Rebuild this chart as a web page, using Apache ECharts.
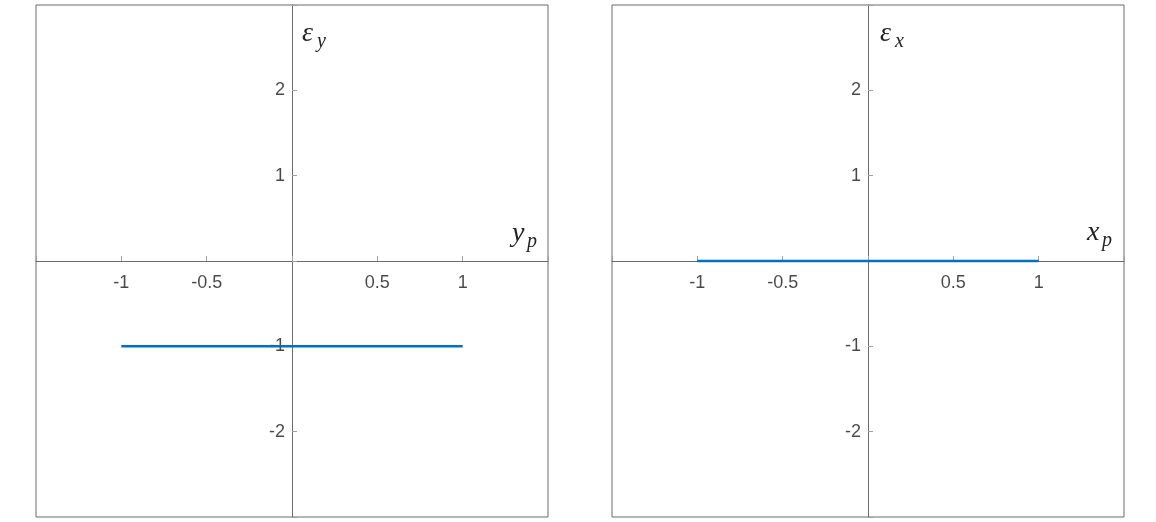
<!DOCTYPE html>
<html>
<head>
<meta charset="utf-8">
<script src="https://cdn.jsdelivr.net/npm/echarts@6/dist/echarts.min.js"></script>
<style>html,body{margin:0;padding:0;background:#fff;overflow:hidden;}#c{width:1156px;height:522px;}</style>
</head>
<body>
<div id="c"></div>
<script>
// Data
const leftX = [-1, 1];
const leftY = [-1, -1];
const rightX = [-1, 1];
const rightY = [0, 0];
const xRange = [-1.5, 1.5];
const yRange = [-3, 3];
const xTickValues = [-1, -0.5, 0.5, 1];
const xTickLabels = ['-1', '-0.5', '0.5', '1'];
const yTickValues = [-2, -1, 1, 2];
const yTickLabels = ['-2', '-1', '1', '2'];

const chart = echarts.init(document.getElementById('c'));
const lineColor = '#0072BD';
const frameColor = '#6b6b6b';
const textColor = '#1a1a1a';
const tickFont = 'Liberation Sans, Arial, sans-serif';

function xAxis(idx){
  return {
    gridIndex: idx, type: 'value', min: xRange[0], max: xRange[1], interval: 0.5,
    axisLine: {onZero: true, lineStyle: {color: frameColor, width: 1}},
    axisTick: {show: true, inside: true, length: 5, lineStyle: {color: '#a0a0a0'}},
    axisLabel: {show: false},
    splitLine: {show: false}
  };
}
function yAxis(idx){
  return {
    gridIndex: idx, type: 'value', min: yRange[0], max: yRange[1], interval: 1,
    axisLine: {onZero: true, lineStyle: {color: frameColor, width: 1}},
    axisTick: {show: true, inside: true, length: 5, lineStyle: {color: '#a0a0a0'}},
    axisLabel: {show: false},
    splitLine: {show: false}
  };
}
function pairs(xs, ys){ return xs.map((x,i)=>[x, ys[i]]); }

function xLabelSeries(idx){
  return {type:'scatter', xAxisIndex: idx, yAxisIndex: idx, silent: true, symbolSize: 0,
    data: xTickValues.map(v=>[v, 0]),
    label: {show: true, position: 'bottom', distance: 13, color: textColor, fontSize: 18, fontFamily: tickFont,
      formatter: p => xTickLabels[p.dataIndex]},
    emphasis: {disabled: true}, z: 1};
}
function yLabelSeries(idx){
  return {type:'scatter', xAxisIndex: idx, yAxisIndex: idx, silent: true, symbolSize: 0,
    data: yTickValues.map(v=>[0, v]),
    label: {show: true, position: 'left', distance: 7, color: textColor, fontSize: 18, fontFamily: tickFont,
      formatter: p => yTickLabels[p.dataIndex]},
    emphasis: {disabled: true}, z: 1};
}

const mathFont = 'Liberation Serif, DejaVu Serif, serif';
function mathLabel(left, top, main, sub){
  return [
    {type:'text', left: left, top: top, style:{text: main, font: 'italic 28px ' + mathFont, fill: '#222'}},
    {type:'text', left: left + 15, top: top + 12, style:{text: sub, font: 'italic 20px ' + mathFont, fill: '#222'}}
  ];
}

chart.setOption({
  animation: false,
  grid: [
    {left: 36, top: 5, width: 512, height: 512, show: true, borderColor: frameColor, borderWidth: 1, containLabel: false, outerBoundsMode: 'none'},
    {left: 612, top: 5, width: 512, height: 512, show: true, borderColor: frameColor, borderWidth: 1, containLabel: false, outerBoundsMode: 'none'}
  ],
  xAxis: [xAxis(0), xAxis(1)],
  yAxis: [yAxis(0), yAxis(1)],
  series: [
    {type:'line', xAxisIndex:0, yAxisIndex:0, data: pairs(leftX, leftY), showSymbol:false, silent:true, lineStyle:{color:lineColor, width:2.5}, z: 5},
    {type:'line', xAxisIndex:1, yAxisIndex:1, data: pairs(rightX, rightY), showSymbol:false, silent:true, lineStyle:{color:lineColor, width:2.5}, z: 5},
    xLabelSeries(0), yLabelSeries(0), xLabelSeries(1), yLabelSeries(1)
  ],
  graphic: [].concat(
    mathLabel(302, 20, 'ε', 'y'),
    mathLabel(512, 220, 'y', 'p'),
    mathLabel(880, 20, 'ε', 'x'),
    mathLabel(1087, 219, 'x', 'p')
  )
});
</script>
</body>
</html>
